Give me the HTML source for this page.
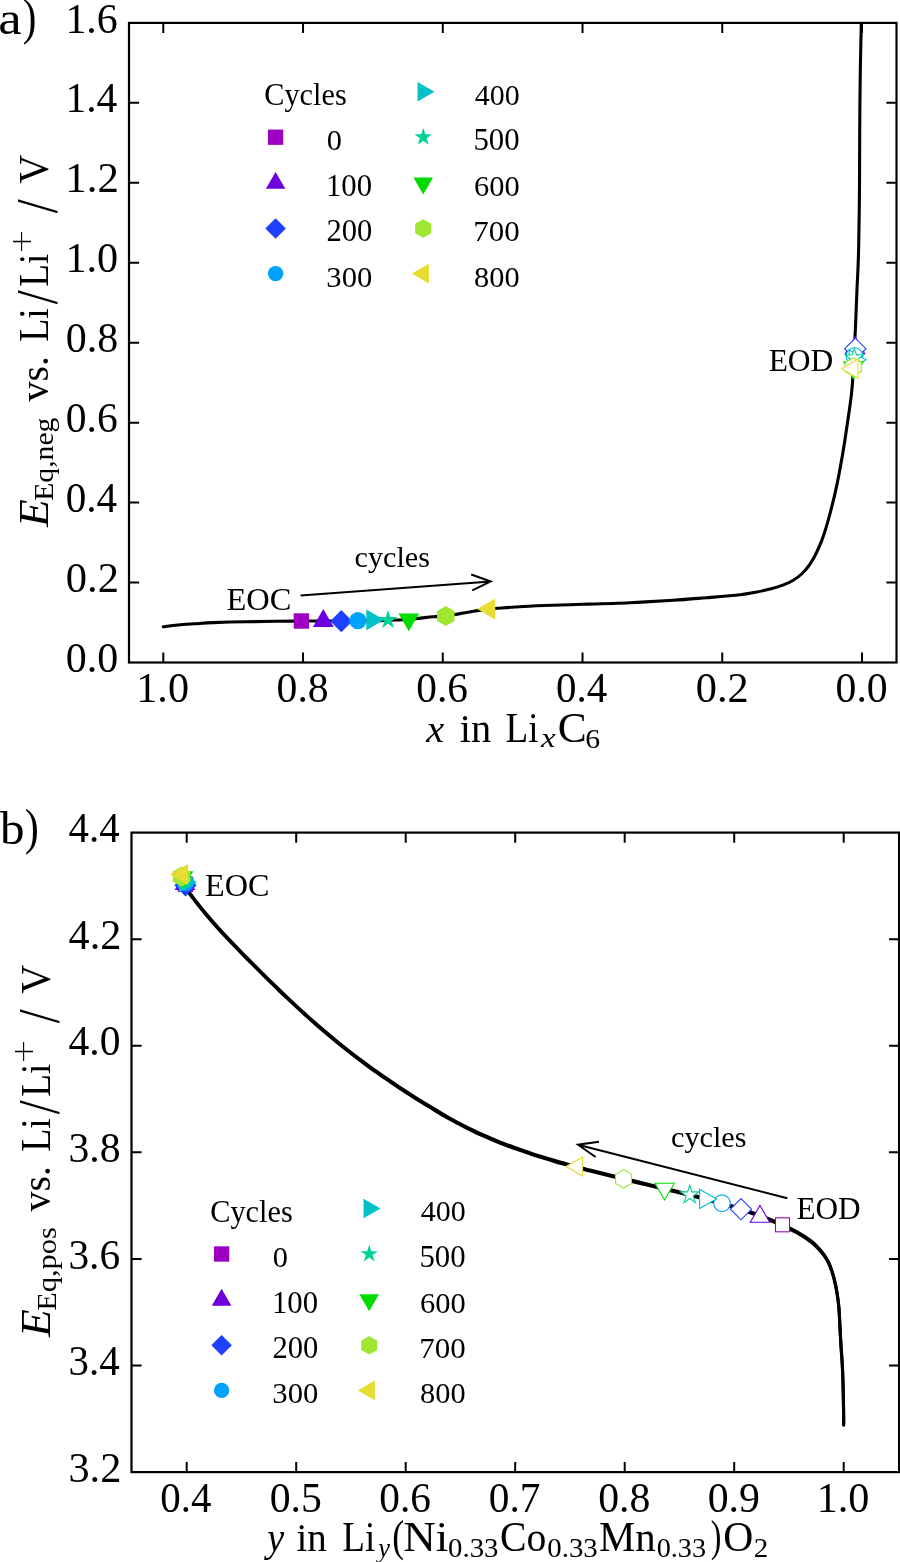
<!DOCTYPE html>
<html lang="en"><head><meta charset="utf-8"><title>Electrode equilibrium potentials</title>
<style>html,body{margin:0;padding:0;background:#fff}body{width:900px;height:1562px;overflow:hidden}svg{display:block}text{font-family:'Liberation Serif','DejaVu Serif',serif;fill:#000}</style></head><body>
<svg width="900" height="1562" viewBox="0 0 900 1562">
<rect width="900" height="1562" fill="#fff"/>
<g id="plot-a">
<clipPath id="clipA"><rect x="129.0" y="22.9" width="767.5" height="639.6"/></clipPath>
<path d="M163.3,626.7C165.8,626.4 172.8,625.5 178.0,625.0C183.2,624.5 188.5,624.2 194.4,623.8C200.3,623.4 204.8,622.9 213.3,622.6C221.8,622.3 232.1,622.0 245.6,621.8C259.1,621.5 278.3,621.2 294.4,621.1C310.5,621.0 327.7,621.1 342.0,621.0C356.3,620.9 370.9,620.8 380.0,620.6C389.1,620.4 390.9,620.3 396.7,620.0C402.5,619.7 408.9,619.1 415.0,618.6C421.1,618.1 427.9,617.1 433.0,616.7C438.1,616.3 441.3,616.5 445.8,616.0C450.3,615.5 455.1,614.4 460.0,613.6C464.9,612.8 470.2,611.8 475.0,611.0C479.8,610.2 485.4,609.5 489.0,609.0C492.6,608.5 492.4,608.6 496.7,608.3C501.0,608.0 508.3,607.4 515.0,607.0C521.7,606.6 527.5,606.2 536.7,605.8C545.9,605.4 562.2,605.0 570.0,604.7C577.8,604.5 573.3,604.6 583.3,604.3C593.3,604.0 615.0,603.4 630.0,602.7C645.0,602.0 660.5,601.1 673.3,600.3C686.1,599.5 695.6,598.6 706.7,597.7C717.8,596.8 731.9,595.7 740.0,594.8C748.1,593.9 750.4,593.2 755.6,592.2C760.8,591.2 766.5,590.0 771.1,588.8C775.8,587.6 779.9,586.3 783.5,584.9C787.1,583.5 789.8,582.4 792.9,580.5C796.0,578.6 799.4,576.2 802.2,573.5C805.1,570.8 807.7,567.6 810.0,564.2C812.3,560.8 814.3,557.2 816.2,553.3C818.1,549.4 819.9,545.3 821.6,540.9C823.3,536.5 824.9,531.6 826.3,526.9C827.7,522.2 828.9,517.8 830.2,512.9C831.5,508.0 832.9,502.2 834.1,497.3C835.3,492.4 836.3,487.6 837.2,483.3C838.1,479.0 838.8,475.4 839.5,471.5C840.2,467.6 840.8,464.8 841.6,460.0C842.4,455.2 843.4,450.0 844.5,442.8C845.6,435.6 847.2,424.8 848.4,416.6C849.6,408.4 850.8,400.0 851.5,393.6C852.2,387.2 852.4,384.3 852.8,378.2C853.2,372.1 853.6,363.9 854.0,357.0C854.4,350.1 854.7,342.2 855.0,336.8C855.3,331.4 855.3,331.7 855.6,324.5C855.9,317.3 856.4,304.1 856.8,293.8C857.2,283.6 857.9,272.0 858.2,263.0C858.5,254.0 858.6,252.7 858.8,240.0C859.0,227.3 859.4,204.5 859.5,186.7C859.6,168.8 859.6,152.1 859.7,132.9C859.8,113.7 860.0,89.7 860.3,71.4C860.6,53.1 861.1,33.2 861.3,23.0C861.5,12.8 861.5,12.2 861.5,10.0" fill="none" stroke="#000" stroke-width="3.1" stroke-linecap="round" stroke-linejoin="round" clip-path="url(#clipA)"/>
<rect x="293.70" y="613.30" width="15.40" height="15.40" fill="#9E00C2"/>
<polygon points="323.30,609.10 333.69,627.10 312.91,627.10" fill="#6B00DC"/>
<polygon points="341.30,610.10 352.40,621.20 341.30,632.30 330.20,621.20" fill="#2040FF"/>
<circle cx="357.90" cy="620.70" r="8.60" fill="#00A2FF"/>
<polygon points="384.30,619.80 366.30,630.19 366.30,609.41" fill="#00C0C8"/>
<polygon points="388.00,610.00 390.25,616.91 397.51,616.91 391.63,621.18 393.88,628.09 388.00,623.82 382.12,628.09 384.37,621.18 378.49,616.91 385.75,616.91" fill="#00D296"/>
<polygon points="408.80,631.30 398.49,613.45 419.11,613.45" fill="#00DC00"/>
<polygon points="445.80,605.90 454.55,610.95 454.55,621.05 445.80,626.10 437.05,621.05 437.05,610.95" fill="#A0E632"/>
<polygon points="477.10,609.00 495.25,598.52 495.25,619.48" fill="#E6DC32"/>
<rect x="848.00" y="346.30" width="14.00" height="14.00" fill="#fff" stroke="#9E00C2" stroke-width="1.1" stroke-linejoin="miter"/>
<polygon points="855.00,336.80 864.70,353.60 845.30,353.60" fill="#fff" stroke="#6B00DC" stroke-width="1.1" stroke-linejoin="miter"/>
<polygon points="855.30,338.10 865.90,348.70 855.30,359.30 844.70,348.70" fill="#fff" stroke="#2040FF" stroke-width="1.1" stroke-linejoin="miter"/>
<circle cx="854.50" cy="356.00" r="8.30" fill="#fff" stroke="#00A2FF" stroke-width="1.1" stroke-linejoin="miter"/>
<polygon points="866.00,359.70 849.20,369.40 849.20,350.00" fill="#fff" stroke="#00C0C8" stroke-width="1.1" stroke-linejoin="miter"/>
<polygon points="854.30,348.40 856.46,355.03 863.43,355.03 857.79,359.13 859.94,365.77 854.30,361.67 848.66,365.77 850.81,359.13 845.17,355.03 852.14,355.03" fill="#fff" stroke="#00D296" stroke-width="1.1" stroke-linejoin="miter"/>
<polygon points="853.50,378.70 843.80,361.90 863.20,361.90" fill="#fff" stroke="#00DC00" stroke-width="1.1" stroke-linejoin="miter"/>
<polygon points="853.30,357.80 861.27,362.40 861.27,371.60 853.30,376.20 845.33,371.60 845.33,362.40" fill="#fff" stroke="#A0E632" stroke-width="1.1" stroke-linejoin="miter"/>
<polygon points="841.50,368.70 858.00,359.17 858.00,378.23" fill="#fff" stroke="#E6DC32" stroke-width="1.1" stroke-linejoin="miter"/>
<rect x="129.0" y="22.9" width="767.5" height="639.6" fill="none" stroke="#000" stroke-width="2.2"/>
<path d="M163.30,662.5v-10.1M163.30,22.9v10.1M303.04,662.5v-10.1M303.04,22.9v10.1M442.78,662.5v-10.1M442.78,22.9v10.1M582.52,662.5v-10.1M582.52,22.9v10.1M722.26,662.5v-10.1M722.26,22.9v10.1M862.00,662.5v-10.1M862.00,22.9v10.1M129.0,102.85h10.1M896.5,102.85h-10.1M129.0,182.80h10.1M896.5,182.80h-10.1M129.0,262.75h10.1M896.5,262.75h-10.1M129.0,342.70h10.1M896.5,342.70h-10.1M129.0,422.65h10.1M896.5,422.65h-10.1M129.0,502.60h10.1M896.5,502.60h-10.1M129.0,582.55h10.1M896.5,582.55h-10.1" stroke="#000" stroke-width="2.0" fill="none"/>
<text transform="translate(65.44,32.50) scale(1.0109,1.0000)" style="font-size:41.4px">1.6</text>
<text transform="translate(65.48,112.45) scale(0.9999,1.0000)" style="font-size:41.4px">1.4</text>
<text transform="translate(65.35,192.40) scale(1.0360,1.0000)" style="font-size:41.4px">1.2</text>
<text transform="translate(65.41,272.35) scale(1.0199,1.0000)" style="font-size:41.4px">1.0</text>
<text transform="translate(65.73,352.30) scale(1.0135,1.0000)" style="font-size:41.4px">0.8</text>
<text transform="translate(65.74,432.25) scale(1.0049,1.0000)" style="font-size:41.4px">0.6</text>
<text transform="translate(65.76,512.20) scale(0.9944,1.0000)" style="font-size:41.4px">0.4</text>
<text transform="translate(65.70,592.15) scale(1.0288,1.0000)" style="font-size:41.4px">0.2</text>
<text transform="translate(65.73,672.10) scale(1.0135,1.0000)" style="font-size:41.4px">0.0</text>
<text transform="translate(136.31,702.40) scale(1.0177,1.0000)" style="font-size:41.4px">1.0</text>
<text transform="translate(276.58,702.40) scale(1.0073,1.0000)" style="font-size:41.4px">0.8</text>
<text transform="translate(416.33,702.40) scale(0.9988,1.0000)" style="font-size:41.4px">0.6</text>
<text transform="translate(556.09,702.40) scale(0.9884,1.0000)" style="font-size:41.4px">0.4</text>
<text transform="translate(695.77,702.40) scale(1.0225,1.0000)" style="font-size:41.4px">0.2</text>
<text transform="translate(835.54,702.40) scale(1.0073,1.0000)" style="font-size:41.4px">0.0</text>
<text transform="translate(264.29,104.70) scale(0.9772,1.0000)" style="font-size:31.0px">Cycles</text>
<rect x="267.95" y="129.55" width="15.30" height="15.30" fill="#9E00C2"/>
<text transform="translate(326.86,150.20) scale(0.9952,1.0000)" style="font-size:30.5px">0</text>
<polygon points="275.60,171.90 285.39,188.85 265.81,188.85" fill="#6B00DC"/>
<text transform="translate(325.91,195.70) scale(1.0086,1.0000)" style="font-size:30.5px">100</text>
<polygon points="275.60,218.20 285.90,228.50 275.60,238.80 265.30,228.50" fill="#2040FF"/>
<text transform="translate(326.50,241.10) scale(1.0021,1.0000)" style="font-size:30.5px">200</text>
<circle cx="275.60" cy="273.60" r="7.70" fill="#00A2FF"/>
<text transform="translate(326.34,286.60) scale(1.0056,1.0000)" style="font-size:30.5px">300</text>
<polygon points="434.50,91.70 417.55,101.49 417.55,81.91" fill="#00C0C8"/>
<text transform="translate(474.68,104.60) scale(0.9825,1.0000)" style="font-size:30.5px">400</text>
<polygon points="423.20,128.00 425.27,134.36 431.95,134.36 426.54,138.29 428.61,144.64 423.20,140.71 417.79,144.64 419.86,138.29 414.45,134.36 421.13,134.36" fill="#00D296"/>
<text transform="translate(473.43,150.20) scale(1.0104,1.0000)" style="font-size:30.5px">500</text>
<polygon points="423.20,194.50 413.41,177.55 432.99,177.55" fill="#00DC00"/>
<text transform="translate(473.90,195.70) scale(0.9998,1.0000)" style="font-size:30.5px">600</text>
<polygon points="423.20,219.20 431.25,223.85 431.25,233.15 423.20,237.80 415.15,233.15 415.15,223.85" fill="#A0E632"/>
<text transform="translate(473.19,241.10) scale(1.0159,1.0000)" style="font-size:30.5px">700</text>
<polygon points="411.90,273.60 428.85,263.81 428.85,283.39" fill="#E6DC32"/>
<text transform="translate(474.06,286.60) scale(0.9963,1.0000)" style="font-size:30.5px">800</text>
<text transform="translate(226.41,609.50) scale(1.0397,1.0000)" style="font-size:31.2px">EOC</text>
<text transform="translate(354.57,566.70) scale(1.0341,1.0000)" style="font-size:29.2px">cycles</text>
<text transform="translate(768.64,370.60) scale(1.0079,1.0000)" style="font-size:31.2px">EOD</text>
<path d="M300.6,595.5L490.7,581.45M471.2,574.5L490.7,581.45L472.3,590.3" fill="none" stroke="#000" stroke-width="2.0" stroke-linejoin="miter" stroke-linecap="butt"/>
<text transform="translate(426.21,741.70) scale(1.0370,1.0000)" style="font-style:italic;font-size:39.0px">x</text>
<text transform="translate(459.79,741.70) scale(1.0360,1.0000)" style="font-size:39.0px">in</text>
<text transform="translate(505.58,741.70) scale(0.8701,1.0000)" style="font-size:42.7px">Li</text>
<text transform="translate(541.01,746.80) scale(1.2181,1.0000)" style="font-style:italic;font-size:27.0px">x</text>
<text transform="translate(557.66,741.70) scale(1.0186,1.0000)" style="font-size:42.7px">C</text>
<text transform="translate(585.33,747.70) scale(1.1025,1.0000)" style="font-size:27.0px">6</text>
<text transform="translate(47.60,527.03) rotate(-90) scale(1.0640,1.0000)" style="font-style:italic;font-size:42.7px">E</text>
<text transform="translate(53.10,500.82) rotate(-90) scale(1.0674,1.0000)" style="font-size:27.8px">Eq,neg</text>
<text transform="translate(47.60,401.50) rotate(-90) scale(1.0233,1.0000)" style="font-size:39.0px">vs.</text>
<text transform="translate(47.60,341.84) rotate(-90) scale(0.8895,1.0000)" style="font-size:42.7px">Li</text>
<text transform="translate(52.50,304.99) rotate(-90) scale(0.9494,1.0000)" style="font-family:'DejaVu Sans Light','DejaVu Sans',sans-serif;font-weight:200;font-size:48.3px">/</text>
<text transform="translate(47.60,286.72) rotate(-90) scale(0.8701,1.0000)" style="font-size:42.7px">Li</text>
<text transform="translate(30.70,254.30) rotate(-90) scale(1.0146,0.9509)" style="font-family:'DejaVu Sans Light','DejaVu Sans',sans-serif;font-weight:200;font-size:30.0px">+</text>
<text transform="translate(52.50,214.09) rotate(-90) scale(0.9494,1.0000)" style="font-family:'DejaVu Sans Light','DejaVu Sans',sans-serif;font-weight:200;font-size:48.3px">/</text>
<text transform="translate(47.60,183.70) rotate(-90) scale(0.9401,1.0000)" style="font-size:42.7px">V</text>
<text transform="translate(-1.85,34.00) scale(1.1485,1.0000)" style="font-size:46.0px">a</text>
<text transform="translate(22.77,34.00) scale(0.8165,1.0000)" style="font-size:50.4px">)</text>
</g>
<g id="plot-b">
<g fill="none" stroke="#000" stroke-width="3.1" stroke-linecap="round" stroke-linejoin="round"><path d="M187.0,889.8C188.3,891.6 191.7,896.2 195.0,900.5C198.3,904.8 203.0,910.6 207.0,915.4C211.0,920.2 215.0,924.7 219.0,929.1C223.0,933.5 227.0,937.7 231.0,941.9C235.0,946.1 239.0,950.2 243.0,954.3C247.0,958.4 251.0,962.3 255.0,966.3C259.0,970.3 263.0,974.3 267.0,978.3C271.0,982.2 275.0,986.1 279.0,990.0C283.0,993.9 287.0,997.6 291.0,1001.4C295.0,1005.1 299.0,1008.9 303.0,1012.5C307.0,1016.1 311.0,1019.8 315.0,1023.3C319.0,1026.8 323.0,1030.2 327.0,1033.6C331.0,1037.0 335.0,1040.3 339.0,1043.5C343.0,1046.7 347.0,1049.9 351.0,1053.0C355.0,1056.1 359.0,1059.1 363.0,1062.1C367.0,1065.1 371.0,1068.1 375.0,1070.9C379.0,1073.8 383.0,1076.5 387.0,1079.2C391.0,1081.9 395.0,1084.7 399.0,1087.3C403.0,1089.9 407.0,1092.5 411.0,1095.1C415.0,1097.7 419.0,1100.2 423.0,1102.7C427.0,1105.2 431.0,1107.6 435.0,1110.0C439.0,1112.4 443.0,1114.8 447.0,1117.1C451.0,1119.4 455.0,1121.5 459.0,1123.6C463.0,1125.7 467.0,1127.8 471.0,1129.7C475.0,1131.7 479.0,1133.5 483.0,1135.3C487.0,1137.1 491.0,1138.8 495.0,1140.4C499.0,1142.1 503.0,1143.7 507.0,1145.2C511.0,1146.7 515.0,1148.2 519.0,1149.6C523.0,1151.0 527.0,1152.4 531.0,1153.7C535.0,1155.0 539.0,1156.3 543.0,1157.5C547.0,1158.7 551.0,1159.9 555.0,1161.1C559.0,1162.3 563.0,1163.4 567.0,1164.5C571.0,1165.6 575.0,1166.7 579.0,1167.7C583.0,1168.8 587.0,1169.8 591.0,1170.8C595.0,1171.8 599.0,1172.8 603.0,1173.8C607.0,1174.8 611.0,1175.8 615.0,1176.8C619.0,1177.8 623.0,1178.7 627.0,1179.7C631.0,1180.7 635.0,1181.6 639.0,1182.6C643.0,1183.6 647.0,1184.5 651.0,1185.5C655.0,1186.5 659.0,1187.4 663.0,1188.4C667.0,1189.4 671.0,1190.3 675.0,1191.3C679.0,1192.3 683.0,1193.2 687.0,1194.2C691.0,1195.2 695.0,1196.3 699.0,1197.3C703.0,1198.3 707.0,1199.3 711.0,1200.4C715.0,1201.5 719.0,1202.6 723.0,1203.8C727.0,1205.0 731.0,1206.2 735.0,1207.4C739.0,1208.7 743.0,1210.0 747.0,1211.3C751.0,1212.6 755.0,1214.0 759.0,1215.5C763.0,1217.0 767.0,1218.5 771.0,1220.2C775.0,1221.9 779.8,1224.0 783.0,1225.4C786.2,1226.8 787.7,1227.6 790.0,1228.7C792.3,1229.8 794.7,1231.1 796.7,1232.2C798.7,1233.3 800.4,1234.2 802.2,1235.3C804.1,1236.4 805.9,1237.8 807.8,1239.1C809.6,1240.4 811.4,1241.7 813.3,1243.3C815.1,1244.9 817.0,1246.9 818.9,1248.9C820.8,1251.0 822.7,1253.2 824.4,1255.6C826.1,1258.0 827.6,1260.5 828.9,1263.3C830.2,1266.1 831.3,1269.4 832.2,1272.2C833.1,1275.0 833.8,1277.4 834.4,1280.0C835.0,1282.6 835.6,1285.0 836.1,1287.8C836.6,1290.6 837.1,1293.4 837.6,1296.7C838.1,1300.0 838.5,1303.4 838.9,1307.8C839.3,1312.2 839.4,1316.6 839.8,1322.9C840.1,1329.2 840.5,1338.2 841.0,1345.9C841.5,1353.6 842.1,1360.0 842.5,1369.0C842.9,1378.0 843.2,1390.4 843.4,1399.7C843.6,1409.0 843.7,1420.4 843.7,1424.6" transform="translate(0,-0.55)"/><path d="M187.0,889.8C188.3,891.6 191.7,896.2 195.0,900.5C198.3,904.8 203.0,910.6 207.0,915.4C211.0,920.2 215.0,924.7 219.0,929.1C223.0,933.5 227.0,937.7 231.0,941.9C235.0,946.1 239.0,950.2 243.0,954.3C247.0,958.4 251.0,962.3 255.0,966.3C259.0,970.3 263.0,974.3 267.0,978.3C271.0,982.2 275.0,986.1 279.0,990.0C283.0,993.9 287.0,997.6 291.0,1001.4C295.0,1005.1 299.0,1008.9 303.0,1012.5C307.0,1016.1 311.0,1019.8 315.0,1023.3C319.0,1026.8 323.0,1030.2 327.0,1033.6C331.0,1037.0 335.0,1040.3 339.0,1043.5C343.0,1046.7 347.0,1049.9 351.0,1053.0C355.0,1056.1 359.0,1059.1 363.0,1062.1C367.0,1065.1 371.0,1068.1 375.0,1070.9C379.0,1073.8 383.0,1076.5 387.0,1079.2C391.0,1081.9 395.0,1084.7 399.0,1087.3C403.0,1089.9 407.0,1092.5 411.0,1095.1C415.0,1097.7 419.0,1100.2 423.0,1102.7C427.0,1105.2 431.0,1107.6 435.0,1110.0C439.0,1112.4 443.0,1114.8 447.0,1117.1C451.0,1119.4 455.0,1121.5 459.0,1123.6C463.0,1125.7 467.0,1127.8 471.0,1129.7C475.0,1131.7 479.0,1133.5 483.0,1135.3C487.0,1137.1 491.0,1138.8 495.0,1140.4C499.0,1142.1 503.0,1143.7 507.0,1145.2C511.0,1146.7 515.0,1148.2 519.0,1149.6C523.0,1151.0 527.0,1152.4 531.0,1153.7C535.0,1155.0 539.0,1156.3 543.0,1157.5C547.0,1158.7 551.0,1159.9 555.0,1161.1C559.0,1162.3 563.0,1163.4 567.0,1164.5C571.0,1165.6 575.0,1166.7 579.0,1167.7C583.0,1168.8 587.0,1169.8 591.0,1170.8C595.0,1171.8 599.0,1172.8 603.0,1173.8C607.0,1174.8 611.0,1175.8 615.0,1176.8C619.0,1177.8 623.0,1178.7 627.0,1179.7C631.0,1180.7 635.0,1181.6 639.0,1182.6C643.0,1183.6 647.0,1184.5 651.0,1185.5C655.0,1186.5 659.0,1187.4 663.0,1188.4C667.0,1189.4 671.0,1190.3 675.0,1191.3C679.0,1192.3 683.0,1193.2 687.0,1194.2C691.0,1195.2 695.0,1196.3 699.0,1197.3C703.0,1198.3 707.0,1199.3 711.0,1200.4C715.0,1201.5 719.0,1202.6 723.0,1203.8C727.0,1205.0 731.0,1206.2 735.0,1207.4C739.0,1208.7 743.0,1210.0 747.0,1211.3C751.0,1212.6 755.0,1214.0 759.0,1215.5C763.0,1217.0 767.0,1218.5 771.0,1220.2C775.0,1221.9 779.8,1224.0 783.0,1225.4C786.2,1226.8 787.7,1227.6 790.0,1228.7C792.3,1229.8 794.7,1231.1 796.7,1232.2C798.7,1233.3 800.4,1234.2 802.2,1235.3C804.1,1236.4 805.9,1237.8 807.8,1239.1C809.6,1240.4 811.4,1241.7 813.3,1243.3C815.1,1244.9 817.0,1246.9 818.9,1248.9C820.8,1251.0 822.7,1253.2 824.4,1255.6C826.1,1258.0 827.6,1260.5 828.9,1263.3C830.2,1266.1 831.3,1269.4 832.2,1272.2C833.1,1275.0 833.8,1277.4 834.4,1280.0C835.0,1282.6 835.6,1285.0 836.1,1287.8C836.6,1290.6 837.1,1293.4 837.6,1296.7C838.1,1300.0 838.5,1303.4 838.9,1307.8C839.3,1312.2 839.4,1316.6 839.8,1322.9C840.1,1329.2 840.5,1338.2 841.0,1345.9C841.5,1353.6 842.1,1360.0 842.5,1369.0C842.9,1378.0 843.2,1390.4 843.4,1399.7C843.6,1409.0 843.7,1420.4 843.7,1424.6" transform="translate(0,0.55)"/></g>
<rect x="177.80" y="876.60" width="15.40" height="15.40" fill="#9E00C2"/>
<polygon points="185.00,872.00 195.39,890.00 174.61,890.00" fill="#6B00DC"/>
<polygon points="185.50,874.20 196.60,885.30 185.50,896.40 174.40,885.30" fill="#2040FF"/>
<circle cx="185.50" cy="882.30" r="8.60" fill="#00A2FF"/>
<polygon points="197.00,882.30 179.00,892.69 179.00,871.91" fill="#00C0C8"/>
<polygon points="184.50,870.50 186.75,877.41 194.01,877.41 188.13,881.68 190.38,888.59 184.50,884.32 178.62,888.59 180.87,881.68 174.99,877.41 182.25,877.41" fill="#00D296"/>
<polygon points="183.00,889.20 172.69,871.35 193.31,871.35" fill="#00DC00"/>
<polygon points="181.60,866.50 190.35,871.55 190.35,881.65 181.60,886.70 172.85,881.65 172.85,871.55" fill="#A0E632"/>
<polygon points="169.90,874.50 188.05,864.02 188.05,884.98" fill="#E6DC32"/>
<rect x="775.50" y="1217.80" width="14.00" height="14.00" fill="#fff" stroke="#9E00C2" stroke-width="1.1" stroke-linejoin="miter"/>
<polygon points="760.00,1205.40 769.70,1222.20 750.30,1222.20" fill="#fff" stroke="#6B00DC" stroke-width="1.1" stroke-linejoin="miter"/>
<polygon points="741.00,1198.60 751.60,1209.20 741.00,1219.80 730.40,1209.20" fill="#fff" stroke="#2040FF" stroke-width="1.1" stroke-linejoin="miter"/>
<circle cx="722.00" cy="1203.20" r="8.30" fill="#fff" stroke="#00A2FF" stroke-width="1.1" stroke-linejoin="miter"/>
<polygon points="716.40,1198.90 699.60,1208.60 699.60,1189.20" fill="#fff" stroke="#00C0C8" stroke-width="1.1" stroke-linejoin="miter"/>
<polygon points="689.70,1185.20 691.86,1191.83 698.83,1191.83 693.19,1195.93 695.34,1202.57 689.70,1198.47 684.06,1202.57 686.21,1195.93 680.57,1191.83 687.54,1191.83" fill="#fff" stroke="#00D296" stroke-width="1.1" stroke-linejoin="miter"/>
<polygon points="664.60,1200.00 654.90,1183.20 674.30,1183.20" fill="#fff" stroke="#00DC00" stroke-width="1.1" stroke-linejoin="miter"/>
<polygon points="623.50,1169.60 631.47,1174.20 631.47,1183.40 623.50,1188.00 615.53,1183.40 615.53,1174.20" fill="#fff" stroke="#A0E632" stroke-width="1.1" stroke-linejoin="miter"/>
<polygon points="566.00,1166.50 582.50,1156.97 582.50,1176.03" fill="#fff" stroke="#E6DC32" stroke-width="1.1" stroke-linejoin="miter"/>
<rect x="131.5" y="832.6" width="767.6" height="639.4999999999999" fill="none" stroke="#000" stroke-width="2.2"/>
<path d="M186.70,1472.1v-10.1M186.70,832.6v10.1M296.20,1472.1v-10.1M296.20,832.6v10.1M405.70,1472.1v-10.1M405.70,832.6v10.1M515.20,1472.1v-10.1M515.20,832.6v10.1M624.70,1472.1v-10.1M624.70,832.6v10.1M734.20,1472.1v-10.1M734.20,832.6v10.1M843.70,1472.1v-10.1M843.70,832.6v10.1M131.5,939.18h10.1M899.1,939.18h-10.1M131.5,1045.77h10.1M899.1,1045.77h-10.1M131.5,1152.35h10.1M899.1,1152.35h-10.1M131.5,1258.93h10.1M899.1,1258.93h-10.1M131.5,1365.51h10.1M899.1,1365.51h-10.1" stroke="#000" stroke-width="2.0" fill="none"/>
<text transform="translate(68.59,842.20) scale(0.9860,1.0000)" style="font-size:41.4px">4.4</text>
<text transform="translate(68.56,948.78) scale(1.0195,1.0000)" style="font-size:41.4px">4.2</text>
<text transform="translate(68.57,1055.37) scale(1.0046,1.0000)" style="font-size:41.4px">4.0</text>
<text transform="translate(68.42,1161.95) scale(1.0077,1.0000)" style="font-size:41.4px">3.8</text>
<text transform="translate(68.44,1268.53) scale(0.9991,1.0000)" style="font-size:41.4px">3.6</text>
<text transform="translate(68.46,1375.11) scale(0.9886,1.0000)" style="font-size:41.4px">3.4</text>
<text transform="translate(68.39,1481.70) scale(1.0230,1.0000)" style="font-size:41.4px">3.2</text>
<text transform="translate(160.27,1511.90) scale(0.9884,1.0000)" style="font-size:41.4px">0.4</text>
<text transform="translate(269.74,1511.90) scale(1.0073,1.0000)" style="font-size:41.4px">0.5</text>
<text transform="translate(379.25,1511.90) scale(0.9988,1.0000)" style="font-size:41.4px">0.6</text>
<text transform="translate(488.75,1511.90) scale(0.9988,1.0000)" style="font-size:41.4px">0.7</text>
<text transform="translate(598.24,1511.90) scale(1.0073,1.0000)" style="font-size:41.4px">0.8</text>
<text transform="translate(707.73,1511.90) scale(1.0094,1.0000)" style="font-size:41.4px">0.9</text>
<text transform="translate(816.71,1511.90) scale(1.0177,1.0000)" style="font-size:41.4px">1.0</text>
<text transform="translate(210.29,1221.50) scale(0.9772,1.0000)" style="font-size:31.0px">Cycles</text>
<rect x="213.95" y="1246.35" width="15.30" height="15.30" fill="#9E00C2"/>
<text transform="translate(272.86,1267.00) scale(0.9952,1.0000)" style="font-size:30.5px">0</text>
<polygon points="221.60,1288.70 231.39,1305.65 211.81,1305.65" fill="#6B00DC"/>
<text transform="translate(271.91,1312.50) scale(1.0086,1.0000)" style="font-size:30.5px">100</text>
<polygon points="221.60,1335.00 231.90,1345.30 221.60,1355.60 211.30,1345.30" fill="#2040FF"/>
<text transform="translate(272.50,1357.90) scale(1.0021,1.0000)" style="font-size:30.5px">200</text>
<circle cx="221.60" cy="1390.40" r="7.70" fill="#00A2FF"/>
<text transform="translate(272.34,1403.40) scale(1.0056,1.0000)" style="font-size:30.5px">300</text>
<polygon points="380.50,1208.50 363.55,1218.29 363.55,1198.71" fill="#00C0C8"/>
<text transform="translate(420.68,1221.40) scale(0.9825,1.0000)" style="font-size:30.5px">400</text>
<polygon points="369.20,1244.80 371.27,1251.16 377.95,1251.16 372.54,1255.09 374.61,1261.44 369.20,1257.51 363.79,1261.44 365.86,1255.09 360.45,1251.16 367.13,1251.16" fill="#00D296"/>
<text transform="translate(419.43,1267.00) scale(1.0104,1.0000)" style="font-size:30.5px">500</text>
<polygon points="369.20,1311.30 359.41,1294.35 378.99,1294.35" fill="#00DC00"/>
<text transform="translate(419.90,1312.50) scale(0.9998,1.0000)" style="font-size:30.5px">600</text>
<polygon points="369.20,1336.00 377.25,1340.65 377.25,1349.95 369.20,1354.60 361.15,1349.95 361.15,1340.65" fill="#A0E632"/>
<text transform="translate(419.19,1357.90) scale(1.0159,1.0000)" style="font-size:30.5px">700</text>
<polygon points="357.90,1390.40 374.85,1380.61 374.85,1400.19" fill="#E6DC32"/>
<text transform="translate(420.06,1403.40) scale(0.9963,1.0000)" style="font-size:30.5px">800</text>
<text transform="translate(205.02,895.50) scale(1.0313,1.0000)" style="font-size:31.2px">EOC</text>
<text transform="translate(671.07,1147.40) scale(1.0341,1.0000)" style="font-size:29.2px">cycles</text>
<text transform="translate(796.54,1219.30) scale(0.9998,1.0000)" style="font-size:31.2px">EOD</text>
<path d="M787.3,1198.2L578.0,1144.7M599.0,1141.7L578.0,1144.7L595.6,1157.0" fill="none" stroke="#000" stroke-width="2.0" stroke-linejoin="miter" stroke-linecap="butt"/>
<text transform="translate(267.24,1551.00) scale(0.9773,1.0000)" style="font-style:italic;font-size:39.0px">y</text>
<text transform="translate(296.52,1551.00) scale(0.9980,1.0000)" style="font-size:39.0px">in</text>
<text transform="translate(342.28,1551.00) scale(0.8673,1.0000)" style="font-size:42.7px">Li</text>
<text transform="translate(378.25,1556.60) scale(0.9783,1.0000)" style="font-style:italic;font-size:27.0px">y</text>
<text transform="translate(392.18,1551.00) scale(0.8129,1.0000)" style="font-size:44.0px">(</text>
<text transform="translate(403.36,1551.00) scale(1.0545,1.0000)" style="font-size:42.7px">Ni</text>
<text transform="translate(448.02,1556.60) scale(1.0680,1.0000)" style="font-size:27.0px">0.33</text>
<text transform="translate(500.11,1551.00) scale(0.9303,1.0000)" style="font-size:42.7px">Co</text>
<text transform="translate(547.22,1556.60) scale(1.0702,1.0000)" style="font-size:27.0px">0.33</text>
<text transform="translate(598.88,1551.00) scale(0.9559,1.0000)" style="font-size:42.7px">Mn</text>
<text transform="translate(656.64,1556.60) scale(1.0459,1.0000)" style="font-size:27.0px">0.33</text>
<text transform="translate(710.74,1551.00) scale(0.7255,1.0000)" style="font-size:44.0px">)</text>
<text transform="translate(723.34,1551.00) scale(0.9732,1.0000)" style="font-size:42.7px">O</text>
<text transform="translate(753.76,1556.60) scale(1.0766,1.0000)" style="font-size:27.0px">2</text>
<text transform="translate(50.10,1337.03) rotate(-90) scale(1.0640,1.0000)" style="font-style:italic;font-size:42.7px">E</text>
<text transform="translate(55.60,1310.84) rotate(-90) scale(1.0962,1.0000)" style="font-size:27.8px">Eq,pos</text>
<text transform="translate(50.10,1211.50) rotate(-90) scale(1.0233,1.0000)" style="font-size:39.0px">vs.</text>
<text transform="translate(50.10,1151.84) rotate(-90) scale(0.8895,1.0000)" style="font-size:42.7px">Li</text>
<text transform="translate(55.00,1114.99) rotate(-90) scale(0.9494,1.0000)" style="font-family:'DejaVu Sans Light','DejaVu Sans',sans-serif;font-weight:200;font-size:48.3px">/</text>
<text transform="translate(50.10,1096.72) rotate(-90) scale(0.8701,1.0000)" style="font-size:42.7px">Li</text>
<text transform="translate(33.20,1064.30) rotate(-90) scale(1.0146,0.9509)" style="font-family:'DejaVu Sans Light','DejaVu Sans',sans-serif;font-weight:200;font-size:30.0px">+</text>
<text transform="translate(55.00,1024.09) rotate(-90) scale(0.9494,1.0000)" style="font-family:'DejaVu Sans Light','DejaVu Sans',sans-serif;font-weight:200;font-size:48.3px">/</text>
<text transform="translate(50.10,993.70) rotate(-90) scale(0.9401,1.0000)" style="font-size:42.7px">V</text>
<text transform="translate(0.00,843.70) scale(1.0487,1.0000)" style="font-size:46.8px">b</text>
<text transform="translate(24.73,843.70) scale(0.8394,1.0000)" style="font-size:50.4px">)</text>
</g>
</svg></body></html>
